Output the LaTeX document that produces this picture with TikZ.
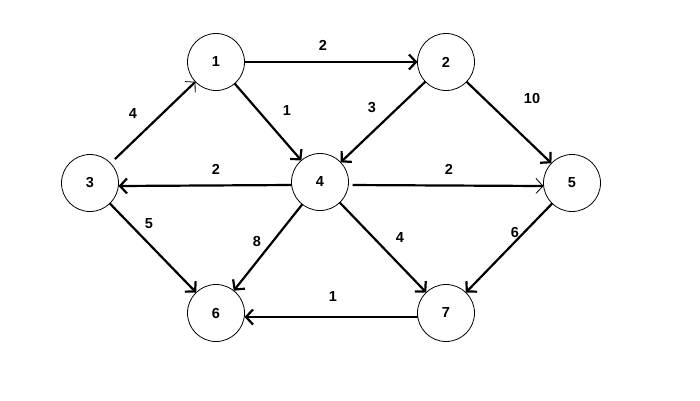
\documentclass[tikz,border=0pt]{standalone}
\usepackage{fontspec}
\setmainfont{Liberation Sans}
\usetikzlibrary{arrows.meta}
\begin{document}
\begin{tikzpicture}[x=1pt,y=-1pt,
  vtx/.style={circle, draw, line width=0.8pt, minimum size=57pt, inner sep=0pt, outer sep=0pt, font=\bfseries\fontsize{14.5}{14.5}\selectfont},
  edg/.style={line width=2.2pt, -{Straight Barb[length=7pt,width=15pt,line width=2.2pt]}},
  thintip/.style={-{Straight Barb[length=7pt,width=15pt,line width=0.8pt]}},
  lbl/.style={font=\bfseries\fontsize{14.5}{14.5}\selectfont, inner sep=0pt}]
\useasboundingbox (0,0) rectangle (700,400);
\fill[white] (0,0) rectangle (700,400);
\node[vtx] (n1) at (216,62) {1};
\node[vtx] (n2) at (446,62) {2};
\node[vtx] (n3) at (90,183) {3};
\node[vtx] (n4) at (320,182) {4};
\node[vtx] (n5) at (572,183) {5};
\node[vtx] (n6) at (216,313) {6};
\node[vtx] (n7) at (446,313) {7};
\draw[edg] (n1) -- (n2);
\draw[edg] (n1) -- (n4);
\draw[edg] (n2) -- (n4);
\draw[edg] (n2) -- (n5);
\draw[edg,thintip,shorten <=6pt] (n3) -- (n1);
\draw[edg] ([yshift=-3pt]n4.west) -- ([yshift=-3pt]n3.east);
\draw[edg,thintip,shorten <=4pt] ([yshift=-3pt]n4.east) -- ([yshift=-3pt]n5.west);
\draw[edg] (n3) -- (n6);
\draw[edg] (n4) -- (n6);
\draw[edg] (n4) -- (n7);
\draw[edg] (n5) -- (n7);
\draw[edg] ([yshift=-4pt]n7.west) -- ([yshift=-4pt]n6.east);
\node[lbl] (l12) at (323,45) {2};
\node[lbl] (l14) at (287,111) {1};
\node[lbl] (l24) at (372,108) {3};
\node[lbl] (l25) at (532,99) {10};
\node[lbl] (l31) at (133,114) {4};
\node[lbl] (l43) at (216,169) {2};
\node[lbl] (l45) at (449,169) {2};
\node[lbl] (l36) at (149,224) {5};
\node[lbl] (l46) at (257,241) {8};
\node[lbl] (l47) at (400,238) {4};
\node[lbl] (l57) at (515,232) {6};
\node[lbl] (l76) at (333,297) {1};
\end{tikzpicture}
\end{document}
